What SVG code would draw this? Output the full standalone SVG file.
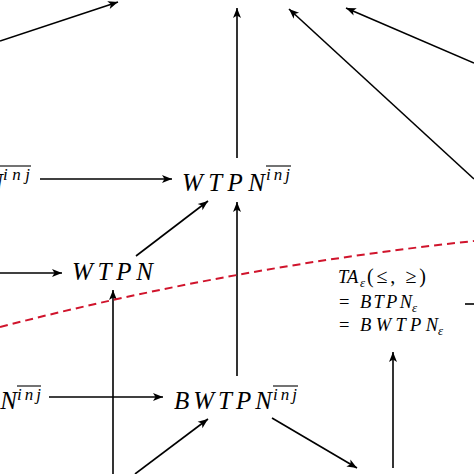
<svg xmlns="http://www.w3.org/2000/svg" width="474" height="474" viewBox="0 0 474 474">
<style>
.e{stroke:#000;stroke-width:1.6;fill:none;marker-end:url(#ah)}
.l{stroke:#000;stroke-width:1.6;fill:none}
.m{font-family:"Liberation Serif",serif;font-style:italic;fill:#000}
.u{font-family:"Liberation Serif",serif;fill:#000}
.big{font-size:25px}
.sup{font-size:17px}
.sm{font-size:18.5px}
.sub{font-size:13px}
.ov{stroke:#000;stroke-width:1.1}
</style>
<defs>
<marker id="ah" markerUnits="userSpaceOnUse" markerWidth="14" markerHeight="12" viewBox="-11 -6 12 12" refX="0" refY="0" orient="auto">
<path d="M0,0 L-10,-4 L-7.5,0 L-10,4 Z" fill="#000"/>
</marker>
</defs>
<rect width="474" height="474" fill="#fff"/>
<g id="connectors">
<line class="e" x1="0" y1="41" x2="118" y2="2"/>
<line class="e" x1="237" y1="158" x2="237" y2="8"/>
<line class="e" x1="474" y1="179" x2="289" y2="9"/>
<line class="e" x1="474" y1="63" x2="346" y2="8"/>
<line class="e" x1="40" y1="179" x2="172" y2="179"/>
<line class="e" x1="136" y1="256" x2="208" y2="201"/>
<line class="e" x1="237" y1="376" x2="237" y2="202"/>
<line class="e" x1="0" y1="273" x2="62" y2="273"/>
<line class="e" x1="113" y1="474" x2="113" y2="290"/>
<line class="e" x1="49" y1="397" x2="163" y2="397"/>
<line class="e" x1="135" y1="474" x2="208" y2="419"/>
<line class="e" x1="272" y1="418" x2="357" y2="468"/>
<line class="e" x1="393" y1="468" x2="393" y2="352"/>
<line class="l" x1="465" y1="304" x2="474" y2="304"/>
<path d="M0,327 Q237,266 474,241" stroke="#d0142c" stroke-width="2" stroke-dasharray="8,5" fill="none"/>
</g>
<g id="node-left-top">
<text class="m big" x="3" y="191" text-anchor="end">N</text>
<text class="m sup" x="3" y="180" textLength="27" lengthAdjust="spacing">inj</text>
<line class="ov" x1="0" y1="166" x2="31" y2="166"/>
</g>
<g id="node-wtpn-inj">
<text class="m big" x="182" y="191" textLength="83" lengthAdjust="spacing">WTPN</text>
<text class="m sup" x="266" y="180" textLength="24" lengthAdjust="spacing">inj</text>
<line class="ov" x1="266" y1="166" x2="291" y2="166"/>
</g>
<g id="node-wtpn">
<text class="m big" x="72" y="280" textLength="81" lengthAdjust="spacing">WTPN</text>
</g>
<g id="node-ta">
<text class="m sm" x="338" y="283">TA</text>
<text class="m sub" x="360" y="287">ε</text>
<text class="u" style="font-size:20px" x="367" y="283" textLength="59" lengthAdjust="spacing">(≤, ≥)</text>
<text class="u sm" x="339" y="308">=</text>
<text class="m sm" x="360" y="308" textLength="52" lengthAdjust="spacing">BTPN</text>
<text class="m sub" x="412" y="312">ε</text>
<text class="u sm" x="339" y="331">=</text>
<text class="m sm" x="360" y="331" textLength="78" lengthAdjust="spacing">BWTPN</text>
<text class="m sub" x="438" y="335">ε</text>
</g>
<g id="node-left-bottom">
<text class="m big" x="17" y="409" text-anchor="end">N</text>
<text class="m sup" x="17" y="400" textLength="24" lengthAdjust="spacing">inj</text>
<line class="ov" x1="17" y1="386" x2="41" y2="386"/>
</g>
<g id="node-bwtpn-inj">
<text class="m big" x="174" y="409" textLength="98" lengthAdjust="spacing">BWTPN</text>
<text class="m sup" x="273" y="400" textLength="24" lengthAdjust="spacing">inj</text>
<line class="ov" x1="273" y1="386" x2="298" y2="386"/>
</g>
</svg>
